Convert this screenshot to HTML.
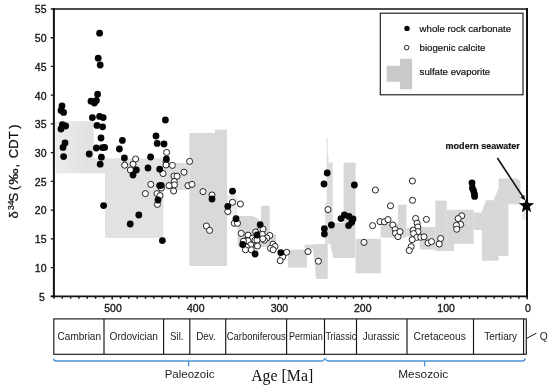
<!DOCTYPE html>
<html><head><meta charset="utf-8"><title>Sulfur isotope age curve</title>
<style>
html,body{margin:0;padding:0;background:#fff;}
body{width:550px;height:389px;overflow:hidden;}
svg{display:block;}
text{font-family:"Liberation Sans",Arial,sans-serif;fill:#111;}
.tk{font-size:10.5px;stroke:#111;stroke-width:0.3px;}
.pd{font-size:10.3px;fill:#222;}
.era{font-size:11.8px;fill:#1c1c1c;}
.lg{font-size:9.65px;stroke:#111;stroke-width:0.2px;}
</style></head><body>
<svg width="550" height="389" viewBox="0 0 550 389">
<rect width="550" height="389" fill="#fff"/>

<defs><linearGradient id="gc" x1="0" x2="1" y1="0" y2="0"><stop offset="0" stop-color="#ececec"/><stop offset="1" stop-color="#e0e0e0"/></linearGradient></defs>
<g id="evaporite">
<rect x="55.4" y="121" width="38.2" height="52.4" fill="url(#gc)"/>
<rect x="93.6" y="158.4" width="11.4" height="15.0" fill="#e2e2e2"/>
<rect x="105" y="158.4" width="58.4" height="79.6" fill="#e2e2e2"/>
<rect x="163.4" y="159" width="4.6" height="31" fill="#dedede"/>
<rect x="168" y="163" width="21.4" height="27" fill="#dedede"/>
<rect x="189.4" y="133" width="25.6" height="133" fill="#d9d9d9"/>
<rect x="215" y="129.6" width="12" height="136.4" fill="#d9d9d9"/>
<rect x="227" y="195" width="10.6" height="21" fill="#ececec"/>
<path d="M237.6,216 H251 Q260,216.5 261,227 V205.7 H269.7 V234.5 H276.3 V247 H237.6 Z" fill="#d7d7d7"/>
<rect x="288" y="249.6" width="19" height="18.0" fill="#d7d7d7"/>
<polygon points="304.5,245 327.7,243.5 327.7,279 316.2,279 313,249 304.5,248" fill="#d7d7d7"/>
<rect x="326.6" y="162.4" width="6.2" height="81.6" fill="#dcdcdc"/>
<rect x="326.6" y="155" width="2.0" height="8" fill="#e6e6e6"/>
<rect x="325.2" y="203" width="1.8" height="41" fill="#dedede"/>
<rect x="326.7" y="138" width="1.0" height="25" fill="#dcdcdc"/>
<rect x="343.6" y="162.6" width="12.0" height="61.4" fill="#d7d7d7"/>
<polygon points="332.6,223 355.4,223 355.4,258 333.5,258 328.3,236" fill="#d7d7d7"/>
<rect x="355.6" y="238.8" width="25.2" height="34.5" fill="#d7d7d7"/>
<rect x="380.6" y="223.5" width="17.4" height="14.1" fill="#d7d7d7"/>
<rect x="398" y="204.6" width="8.5" height="33.0" fill="#d7d7d7"/>
<rect x="406.5" y="228" width="13.2" height="8.5" fill="#d7d7d7"/>
<rect x="419.7" y="227" width="15.6" height="22.5" fill="#d7d7d7"/>
<rect x="435.3" y="200.6" width="11.5" height="50.4" fill="#d7d7d7"/>
<rect x="446.8" y="209.8" width="7.2" height="41.2" fill="#d7d7d7"/>
<rect x="454" y="209.8" width="19.7" height="34.0" fill="#d7d7d7"/>
<rect x="473.7" y="212.5" width="8.3" height="17.5" fill="#d7d7d7"/>
<polygon points="481.7,212 486.1,200.2 493.4,200.2 498.6,188.4 498.6,178.6 517.6,178.6 517.6,180 520.3,180 520.3,204.3 508.4,204.3 508.4,256 498.4,256 498.4,260.7 482,260.7" fill="#d7d7d7"/>
<rect x="522.2" y="204" width="3.8" height="15.5" fill="#e8e8e8"/>
</g>
<g stroke="#111" fill="none">
<path d="M53.9,8.3 V297.2" stroke-width="2"/>
<path d="M53,9 H528" stroke-width="1.5"/>
<path d="M527,8.3 V297.2" stroke-width="2"/>
<path d="M50.8,296.3 H528" stroke-width="1.7"/>
<path d="M50.8,9.00 H54 M50.8,37.73 H54 M50.8,66.46 H54 M50.8,95.19 H54 M50.8,123.92 H54 M50.8,152.65 H54 M50.8,181.38 H54 M50.8,210.11 H54 M50.8,238.84 H54 M50.8,267.57 H54 M50.8,296.30 H54 " stroke-width="1.3"/>
<path d="M527.10,296.3 V299.6 M518.87,296.3 V298.8 M510.64,296.3 V298.8 M502.41,296.3 V298.8 M494.18,296.3 V298.8 M485.95,296.3 V298.8 M477.72,296.3 V298.8 M469.49,296.3 V298.8 M461.26,296.3 V298.8 M453.03,296.3 V298.8 M444.80,296.3 V299.6 M436.50,296.3 V298.8 M428.20,296.3 V298.8 M419.90,296.3 V298.8 M411.60,296.3 V298.8 M403.30,296.3 V298.8 M395.00,296.3 V298.8 M386.70,296.3 V298.8 M378.40,296.3 V298.8 M370.10,296.3 V298.8 M361.80,296.3 V299.6 M353.47,296.3 V298.8 M345.14,296.3 V298.8 M336.81,296.3 V298.8 M328.48,296.3 V298.8 M320.15,296.3 V298.8 M311.82,296.3 V298.8 M303.49,296.3 V298.8 M295.16,296.3 V298.8 M286.83,296.3 V298.8 M278.50,296.3 V299.6 M270.19,296.3 V298.8 M261.88,296.3 V298.8 M253.57,296.3 V298.8 M245.26,296.3 V298.8 M236.95,296.3 V298.8 M228.64,296.3 V298.8 M220.33,296.3 V298.8 M212.02,296.3 V298.8 M203.71,296.3 V298.8 M195.40,296.3 V299.6 M187.08,296.3 V298.8 M178.76,296.3 V298.8 M170.44,296.3 V298.8 M162.12,296.3 V298.8 M153.80,296.3 V298.8 M145.48,296.3 V298.8 M137.16,296.3 V298.8 M128.84,296.3 V298.8 M120.52,296.3 V298.8 M112.20,296.3 V299.6 M103.89,296.3 V298.8 M95.57,296.3 V298.8 M87.26,296.3 V298.8 M78.94,296.3 V298.8 M70.63,296.3 V298.8 M62.31,296.3 V298.8 M54.00,296.3 V298.8 " stroke-width="1.4"/>
</g>
<text class="tk" x="46.5" y="13.35" text-anchor="end">55</text>
<text class="tk" x="46.5" y="42.08" text-anchor="end">50</text>
<text class="tk" x="46.5" y="70.81" text-anchor="end">45</text>
<text class="tk" x="46.5" y="99.54" text-anchor="end">40</text>
<text class="tk" x="46.5" y="128.27" text-anchor="end">35</text>
<text class="tk" x="46.5" y="157.00" text-anchor="end">30</text>
<text class="tk" x="46.5" y="185.73" text-anchor="end">25</text>
<text class="tk" x="46.5" y="214.46" text-anchor="end">20</text>
<text class="tk" x="46.5" y="243.19" text-anchor="end">15</text>
<text class="tk" x="46.5" y="271.92" text-anchor="end">10</text>
<text class="tk" x="44.9" y="300.65" text-anchor="end">5</text>
<text class="tk" x="527.9" y="311.8" text-anchor="middle">0</text>
<text class="tk" x="446.1" y="311.8" text-anchor="middle">100</text>
<text class="tk" x="362.8" y="311.8" text-anchor="middle">200</text>
<text class="tk" x="279.4" y="311.8" text-anchor="middle">300</text>
<text class="tk" x="195.8" y="311.8" text-anchor="middle">400</text>
<text class="tk" x="113" y="311.8" text-anchor="middle">500</text>
<g transform="translate(18.4,218.2) rotate(-90)" font-size="13" stroke="#111" stroke-width="0.25"><text x="-0.3" y="0">δ</text><text x="8.2" y="-4.8" font-size="8.6">34</text><text x="16.6" y="0">S</text><text x="28.2" y="0">(</text><text transform="translate(33.4,0) scale(1.26,1)" x="0" y="0">‰</text><text x="50.8" y="0">,</text><text x="60" y="0" letter-spacing="0.1">CDT</text><text x="89.4" y="0">)</text></g>
<g stroke="#181818" stroke-width="0.95" fill="#fff">
<circle cx="135.6" cy="159" r="3.05"/>
<circle cx="124.7" cy="165.2" r="3.05"/>
<circle cx="133" cy="164.2" r="3.05"/>
<circle cx="130.4" cy="170" r="3.05"/>
<circle cx="150.8" cy="184.4" r="3.05"/>
<circle cx="145.4" cy="193.6" r="3.05"/>
<circle cx="166.6" cy="152.4" r="3.05"/>
<circle cx="166" cy="162" r="3.05"/>
<circle cx="166" cy="165" r="3.05"/>
<circle cx="172.4" cy="165.4" r="3.05"/>
<circle cx="189.6" cy="161.4" r="3.05"/>
<circle cx="184" cy="172.2" r="3.05"/>
<circle cx="163" cy="173.5" r="3.05"/>
<circle cx="174" cy="176" r="3.05"/>
<circle cx="177" cy="176.2" r="3.05"/>
<circle cx="174.2" cy="181.5" r="3.05"/>
<circle cx="174.4" cy="184.9" r="3.05"/>
<circle cx="169" cy="185.6" r="3.05"/>
<circle cx="173.6" cy="191" r="3.05"/>
<circle cx="161.3" cy="188" r="3.05"/>
<circle cx="157" cy="193.6" r="3.05"/>
<circle cx="160" cy="195.6" r="3.05"/>
<circle cx="157.4" cy="204.4" r="3.05"/>
<circle cx="188" cy="185.6" r="3.05"/>
<circle cx="192" cy="184.4" r="3.05"/>
<circle cx="203" cy="191.6" r="3.05"/>
<circle cx="212" cy="195" r="3.05"/>
<circle cx="232.5" cy="202.3" r="3.05"/>
<circle cx="240.4" cy="204" r="3.05"/>
<circle cx="227.8" cy="211.5" r="3.05"/>
<circle cx="234.3" cy="223.3" r="3.05"/>
<circle cx="237.5" cy="223.3" r="3.05"/>
<circle cx="206.4" cy="226" r="3.05"/>
<circle cx="209.6" cy="230.4" r="3.05"/>
<circle cx="241.2" cy="233.4" r="3.05"/>
<circle cx="248" cy="235.1" r="3.05"/>
<circle cx="255.7" cy="232" r="3.05"/>
<circle cx="260.7" cy="229.1" r="3.05"/>
<circle cx="263" cy="229.1" r="3.05"/>
<circle cx="262.3" cy="234.4" r="3.05"/>
<circle cx="269.8" cy="235.5" r="3.05"/>
<circle cx="266.8" cy="238" r="3.05"/>
<circle cx="264.4" cy="240.2" r="3.05"/>
<circle cx="262.8" cy="238.8" r="3.05"/>
<circle cx="252.4" cy="238.3" r="3.05"/>
<circle cx="254.9" cy="240.3" r="3.05"/>
<circle cx="257" cy="240.1" r="3.05"/>
<circle cx="246.7" cy="240.3" r="3.05"/>
<circle cx="248" cy="240.8" r="3.05"/>
<circle cx="243.5" cy="241.2" r="3.05"/>
<circle cx="250.7" cy="244.9" r="3.05"/>
<circle cx="257.5" cy="246" r="3.05"/>
<circle cx="246.4" cy="247.1" r="3.05"/>
<circle cx="245.5" cy="249.8" r="3.05"/>
<circle cx="251.3" cy="249.8" r="3.05"/>
<circle cx="273" cy="244.2" r="3.05"/>
<circle cx="275" cy="246.5" r="3.05"/>
<circle cx="270.5" cy="248.4" r="3.05"/>
<circle cx="273.1" cy="249.8" r="3.05"/>
<circle cx="286.6" cy="252.3" r="3.05"/>
<circle cx="282.7" cy="256.8" r="3.05"/>
<circle cx="280.2" cy="260.7" r="3.05"/>
<circle cx="308" cy="251.6" r="3.05"/>
<circle cx="318.4" cy="261.2" r="3.05"/>
<circle cx="375.4" cy="190" r="3.05"/>
<circle cx="390.5" cy="205.8" r="3.05"/>
<circle cx="328" cy="209.6" r="3.05"/>
<circle cx="372.6" cy="225.6" r="3.05"/>
<circle cx="380" cy="221.6" r="3.05"/>
<circle cx="384.4" cy="221.8" r="3.05"/>
<circle cx="388" cy="219.6" r="3.05"/>
<circle cx="392.8" cy="225" r="3.05"/>
<circle cx="395.2" cy="229.6" r="3.05"/>
<circle cx="395.6" cy="233.3" r="3.05"/>
<circle cx="398" cy="236.6" r="3.05"/>
<circle cx="400" cy="231.7" r="3.05"/>
<circle cx="364" cy="242.4" r="3.05"/>
<circle cx="412.4" cy="181" r="3.05"/>
<circle cx="412.5" cy="200.3" r="3.05"/>
<circle cx="426.4" cy="219.4" r="3.05"/>
<circle cx="415.6" cy="218.5" r="3.05"/>
<circle cx="417.1" cy="223.2" r="3.05"/>
<circle cx="417.8" cy="227" r="3.05"/>
<circle cx="413.2" cy="230.2" r="3.05"/>
<circle cx="418" cy="231.6" r="3.05"/>
<circle cx="413.6" cy="233.6" r="3.05"/>
<circle cx="416.7" cy="237.4" r="3.05"/>
<circle cx="420.7" cy="237.2" r="3.05"/>
<circle cx="424" cy="236.8" r="3.05"/>
<circle cx="412.2" cy="239.7" r="3.05"/>
<circle cx="428" cy="243" r="3.05"/>
<circle cx="431.5" cy="241.6" r="3.05"/>
<circle cx="411.2" cy="246.6" r="3.05"/>
<circle cx="409.2" cy="250.5" r="3.05"/>
<circle cx="440.6" cy="238.5" r="3.05"/>
<circle cx="439.2" cy="244" r="3.05"/>
<circle cx="461.7" cy="215.8" r="3.05"/>
<circle cx="458.2" cy="218.6" r="3.05"/>
<circle cx="460.7" cy="224.4" r="3.05"/>
<circle cx="456.4" cy="225.4" r="3.05"/>
<circle cx="456.7" cy="229.2" r="3.05"/>
</g><g fill="#050505">
<circle cx="99.6" cy="33.2" r="3.4"/>
<circle cx="98.2" cy="58.2" r="3.4"/>
<circle cx="100.2" cy="65" r="3.4"/>
<circle cx="97.6" cy="94.2" r="3.4"/>
<circle cx="62" cy="106" r="3.4"/>
<circle cx="61" cy="110.4" r="3.4"/>
<circle cx="63.6" cy="112.4" r="3.4"/>
<circle cx="62.4" cy="124.6" r="3.4"/>
<circle cx="65.6" cy="126" r="3.4"/>
<circle cx="61" cy="129" r="3.4"/>
<circle cx="65" cy="143" r="3.4"/>
<circle cx="63" cy="147.4" r="3.4"/>
<circle cx="63.6" cy="156.6" r="3.4"/>
<circle cx="91" cy="101.2" r="3.4"/>
<circle cx="94.4" cy="103" r="3.4"/>
<circle cx="96.4" cy="100.4" r="3.4"/>
<circle cx="92.4" cy="117.6" r="3.4"/>
<circle cx="99.6" cy="116.4" r="3.4"/>
<circle cx="103.2" cy="117.6" r="3.4"/>
<circle cx="97" cy="125.4" r="3.4"/>
<circle cx="102.6" cy="126.8" r="3.4"/>
<circle cx="101" cy="138" r="3.4"/>
<circle cx="96.4" cy="148" r="3.4"/>
<circle cx="102.4" cy="147.6" r="3.4"/>
<circle cx="104.6" cy="147.4" r="3.4"/>
<circle cx="89.2" cy="154" r="3.4"/>
<circle cx="101.4" cy="157.2" r="3.4"/>
<circle cx="100.2" cy="164.2" r="3.4"/>
<circle cx="122.4" cy="140.4" r="3.4"/>
<circle cx="119.4" cy="149" r="3.4"/>
<circle cx="124.4" cy="158" r="3.4"/>
<circle cx="156" cy="136" r="3.4"/>
<circle cx="157.2" cy="143.4" r="3.4"/>
<circle cx="150.6" cy="157" r="3.4"/>
<circle cx="136.4" cy="170" r="3.4"/>
<circle cx="133" cy="175" r="3.4"/>
<circle cx="148" cy="168" r="3.4"/>
<circle cx="159.7" cy="169.2" r="3.4"/>
<circle cx="103.6" cy="205.6" r="3.4"/>
<circle cx="138.8" cy="215" r="3.4"/>
<circle cx="130.2" cy="224" r="3.4"/>
<circle cx="159.6" cy="185.6" r="3.4"/>
<circle cx="158" cy="200" r="3.4"/>
<circle cx="165.4" cy="120" r="3.4"/>
<circle cx="164" cy="144" r="3.4"/>
<circle cx="166.4" cy="159" r="3.4"/>
<circle cx="161.2" cy="185.3" r="3.4"/>
<circle cx="162.4" cy="240.6" r="3.4"/>
<circle cx="212" cy="199" r="3.4"/>
<circle cx="232.5" cy="191.2" r="3.4"/>
<circle cx="227.8" cy="206.3" r="3.4"/>
<circle cx="236" cy="218.7" r="3.4"/>
<circle cx="260.2" cy="224.6" r="3.4"/>
<circle cx="257" cy="235" r="3.4"/>
<circle cx="242.7" cy="244.5" r="3.4"/>
<circle cx="255.1" cy="254" r="3.4"/>
<circle cx="280.8" cy="252.7" r="3.4"/>
<circle cx="327.2" cy="173" r="3.4"/>
<circle cx="324" cy="184" r="3.4"/>
<circle cx="354.4" cy="185" r="3.4"/>
<circle cx="344.4" cy="215" r="3.4"/>
<circle cx="341" cy="218.6" r="3.4"/>
<circle cx="349" cy="216.4" r="3.4"/>
<circle cx="353" cy="219" r="3.4"/>
<circle cx="351.6" cy="222.4" r="3.4"/>
<circle cx="348.6" cy="225.6" r="3.4"/>
<circle cx="331.4" cy="225" r="3.4"/>
<circle cx="324.4" cy="228.6" r="3.4"/>
<circle cx="324.4" cy="234" r="3.4"/>
<circle cx="472" cy="183" r="3.4"/>
<circle cx="472.4" cy="188" r="3.4"/>
<circle cx="473.6" cy="191" r="3.4"/>
<circle cx="474.4" cy="194" r="3.4"/>
<circle cx="474.6" cy="196.4" r="3.4"/>
</g>
<rect x="380.3" y="13.2" width="142.7" height="81.6" fill="#fff" stroke="#111" stroke-width="1.1"/>
<circle cx="407" cy="28.4" r="2.7" fill="#050505"/>
<circle cx="406.6" cy="47.6" r="2.3" fill="#fff" stroke="#111" stroke-width="0.9"/>
<path d="M386.7,65.8 H400 V58.7 H412.1 V89.2 H400 V81.8 H386.7 Z" fill="#c9c9c9"/>
<text class="lg" x="419.6" y="31.6">whole rock carbonate</text>
<text class="lg" x="419.6" y="50.8">biogenic calcite</text>
<text class="lg" x="419.6" y="75">sulfate evaporite</text>
<text x="445.6" y="148.7" font-size="9.8" font-weight="bold" stroke="#111" stroke-width="0.2" textLength="74.2" lengthAdjust="spacingAndGlyphs">modern seawater</text>
<path d="M497.4,158 L523,197" stroke="#111" stroke-width="1.6" fill="none"/>
<path d="M525.2,200.4 L520.2,197.6 L524.2,195 Z" fill="#111"/>
<polygon points="526.50,197.70 528.50,202.95 534.11,203.23 529.73,206.75 531.20,212.17 526.50,209.10 521.80,212.17 523.27,206.75 518.89,203.23 524.50,202.95" fill="#050505"/>
<g stroke="#161616" stroke-width="1.15" fill="none">
<rect x="53.8" y="318.9" width="472.5" height="35.4" fill="#fff"/>
<path d="M104,318.9 V354.3 M163.6,318.9 V354.3 M189.8,318.9 V354.3 M225.7,318.9 V354.3 M286.6,318.9 V354.3 M324.5,318.9 V354.3 M356.5,318.9 V354.3 M407,318.9 V354.3 M473.5,318.9 V354.3 M523.6,318.9 V354.3"/>
<path d="M526.3,338.5 L536.4,333.2" stroke-width="1"/>
</g>
<text class="pd" x="57.6" y="339.9" textLength="43.4" lengthAdjust="spacingAndGlyphs">Cambrian</text>
<text class="pd" x="109.5" y="339.9" textLength="48.5" lengthAdjust="spacingAndGlyphs">Ordovician</text>
<text class="pd" x="170" y="339.9" textLength="13.5" lengthAdjust="spacingAndGlyphs">Sil.</text>
<text class="pd" x="196.2" y="339.9" textLength="19.6" lengthAdjust="spacingAndGlyphs">Dev.</text>
<text class="pd" x="226.8" y="339.9" textLength="59.0" lengthAdjust="spacingAndGlyphs">Carboniferous</text>
<text class="pd" x="288.9" y="339.9" textLength="33.8" lengthAdjust="spacingAndGlyphs">Permian</text>
<text class="pd" x="325.4" y="339.9" textLength="30.8" lengthAdjust="spacingAndGlyphs">Triassic</text>
<text class="pd" x="362.7" y="339.9" textLength="36.9" lengthAdjust="spacingAndGlyphs">Jurassic</text>
<text class="pd" x="413.6" y="339.9" textLength="52.2" lengthAdjust="spacingAndGlyphs">Cretaceous</text>
<text class="pd" x="484.2" y="339.9" textLength="32.9" lengthAdjust="spacingAndGlyphs">Tertiary</text>
<text class="pd" x="539.7" y="339.5" font-size="9.6">Q</text>
<g stroke="#4f94d8" stroke-width="1.3" fill="none">
<path d="M53.4,358.6 Q53.6,361.0 56.4,361.0 H321.4 Q324.2,361.0 324.4,358.2 M188.6,361.0 V366.6"/>
<path d="M325.6,358.2 Q325.8,361.0 328.6,361.0 H522.2 Q525,361.0 525.2,358.4 M424.6,361.0 V366.6"/>
</g>
<text class="era" x="164.7" y="378.3" textLength="49.8" lengthAdjust="spacingAndGlyphs">Paleozoic</text>
<text class="era" x="398.2" y="378.3" textLength="50" lengthAdjust="spacingAndGlyphs">Mesozoic</text>
<text x="251.2" y="380.8" font-size="16.3" style="font-family:'Liberation Serif','Times New Roman',serif" textLength="62" lengthAdjust="spacingAndGlyphs">Age [Ma]</text>
</svg></body></html>
